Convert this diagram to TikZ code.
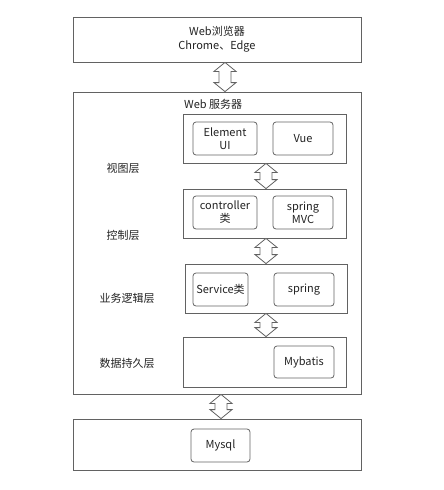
\documentclass[tikz,border=0pt]{standalone}
\usepackage{fontspec}
\setmainfont{Noto Sans CJK SC}
\usetikzlibrary{calc}
\definecolor{edge}{HTML}{626262}
\definecolor{txt}{HTML}{222222}
\tikzset{
  outerbox/.style={draw=edge, line width=0.8pt, minimum width=288pt, inner sep=0pt},
  layerbox/.style={draw=edge, line width=0.8pt, minimum height=49pt, inner sep=0pt},
  compbox/.style={draw=edge, line width=0.8pt, rounded corners=3pt, minimum height=33pt, align=center, inner sep=0pt, text=txt, font=\fontsize{11}{13}\selectfont},
  lbl/.style={text=txt, font=\fontsize{11}{13}\selectfont, inner sep=0pt},
  arrowline/.style={draw=edge, line width=0.8pt, fill=white, line join=miter},
}
\newcommand\dblarrow[3]{%
  \draw[arrowline] let \p1=(#1.south), \p2=(#2.north) in
    (\x1+#3,\y1) -- (\x1+#3+11,\y1-9) -- (\x1+#3+6,\y1-9) -- (\x1+#3+6,\y2+9) -- (\x1+#3+11,\y2+9)
    -- (\x1+#3,\y2) -- (\x1+#3-11,\y2+9) -- (\x1+#3-6,\y2+9) -- (\x1+#3-6,\y1-9) -- (\x1+#3-11,\y1-9) -- cycle;}
\begin{document}
\begin{tikzpicture}[x=1pt,y=-1pt]
\useasboundingbox (0,0) rectangle (444,490);
% outer boxes
\node[outerbox, minimum height=45pt, align=center, text=txt, font=\fontsize{11}{14}\selectfont] (browser) at (217,39.5) {Web浏览器\\Chrome、Edge};
\node[outerbox, minimum height=302pt] (server) at (217,243) {};
\node[outerbox, minimum height=51pt] (db) at (217,444.5) {};
\node[lbl, anchor=west] (servertitle) at (184,104) {Web 服务器};
% layers
\node[layerbox, minimum width=163pt] (view) at (264.5,138.5) {};
\node[compbox, minimum width=64pt] (element) at (225,138.5) {Element\\UI};
\node[compbox, minimum width=60pt] (vue) at (303,138.5) {Vue};
\node[lbl] (viewlbl) at (123,168) {视图层};

\node[layerbox, minimum width=163pt] (control) at (264.5,213.5) {};
\node[compbox, minimum width=64pt] (controller) at (225,212.5) {controller\\类};
\node[compbox, minimum width=60pt] (springmvc) at (303,212.5) {spring\\MVC};
\node[lbl] (controllbl) at (123,235) {控制层};

\node[layerbox, minimum width=162pt] (business) at (266,288.5) {};
\node[compbox, minimum width=55pt] (service) at (220.5,289.5) {Service类};
\node[compbox, minimum width=60pt] (spring) at (304,289.5) {spring};
\node[lbl] (businesslbl) at (127,298) {业务逻辑层};

\node[layerbox, minimum width=163pt, minimum height=50pt] (persist) at (264.5,362) {};
\node[compbox, minimum width=60pt, minimum height=32pt] (mybatis) at (304,362) {Mybatis};
\node[lbl] (persistlbl) at (127,363) {数据持久层};

\node[compbox, minimum width=59pt] (mysql) at (220.5,445.5) {Mysql};
% arrows
\dblarrow{browser}{server}{8}
\dblarrow{view}{control}{1.5}
\dblarrow{control}{business}{1.5}
\dblarrow{business}{persist}{0}
\dblarrow{server}{db}{4}
\end{tikzpicture}
\end{document}
